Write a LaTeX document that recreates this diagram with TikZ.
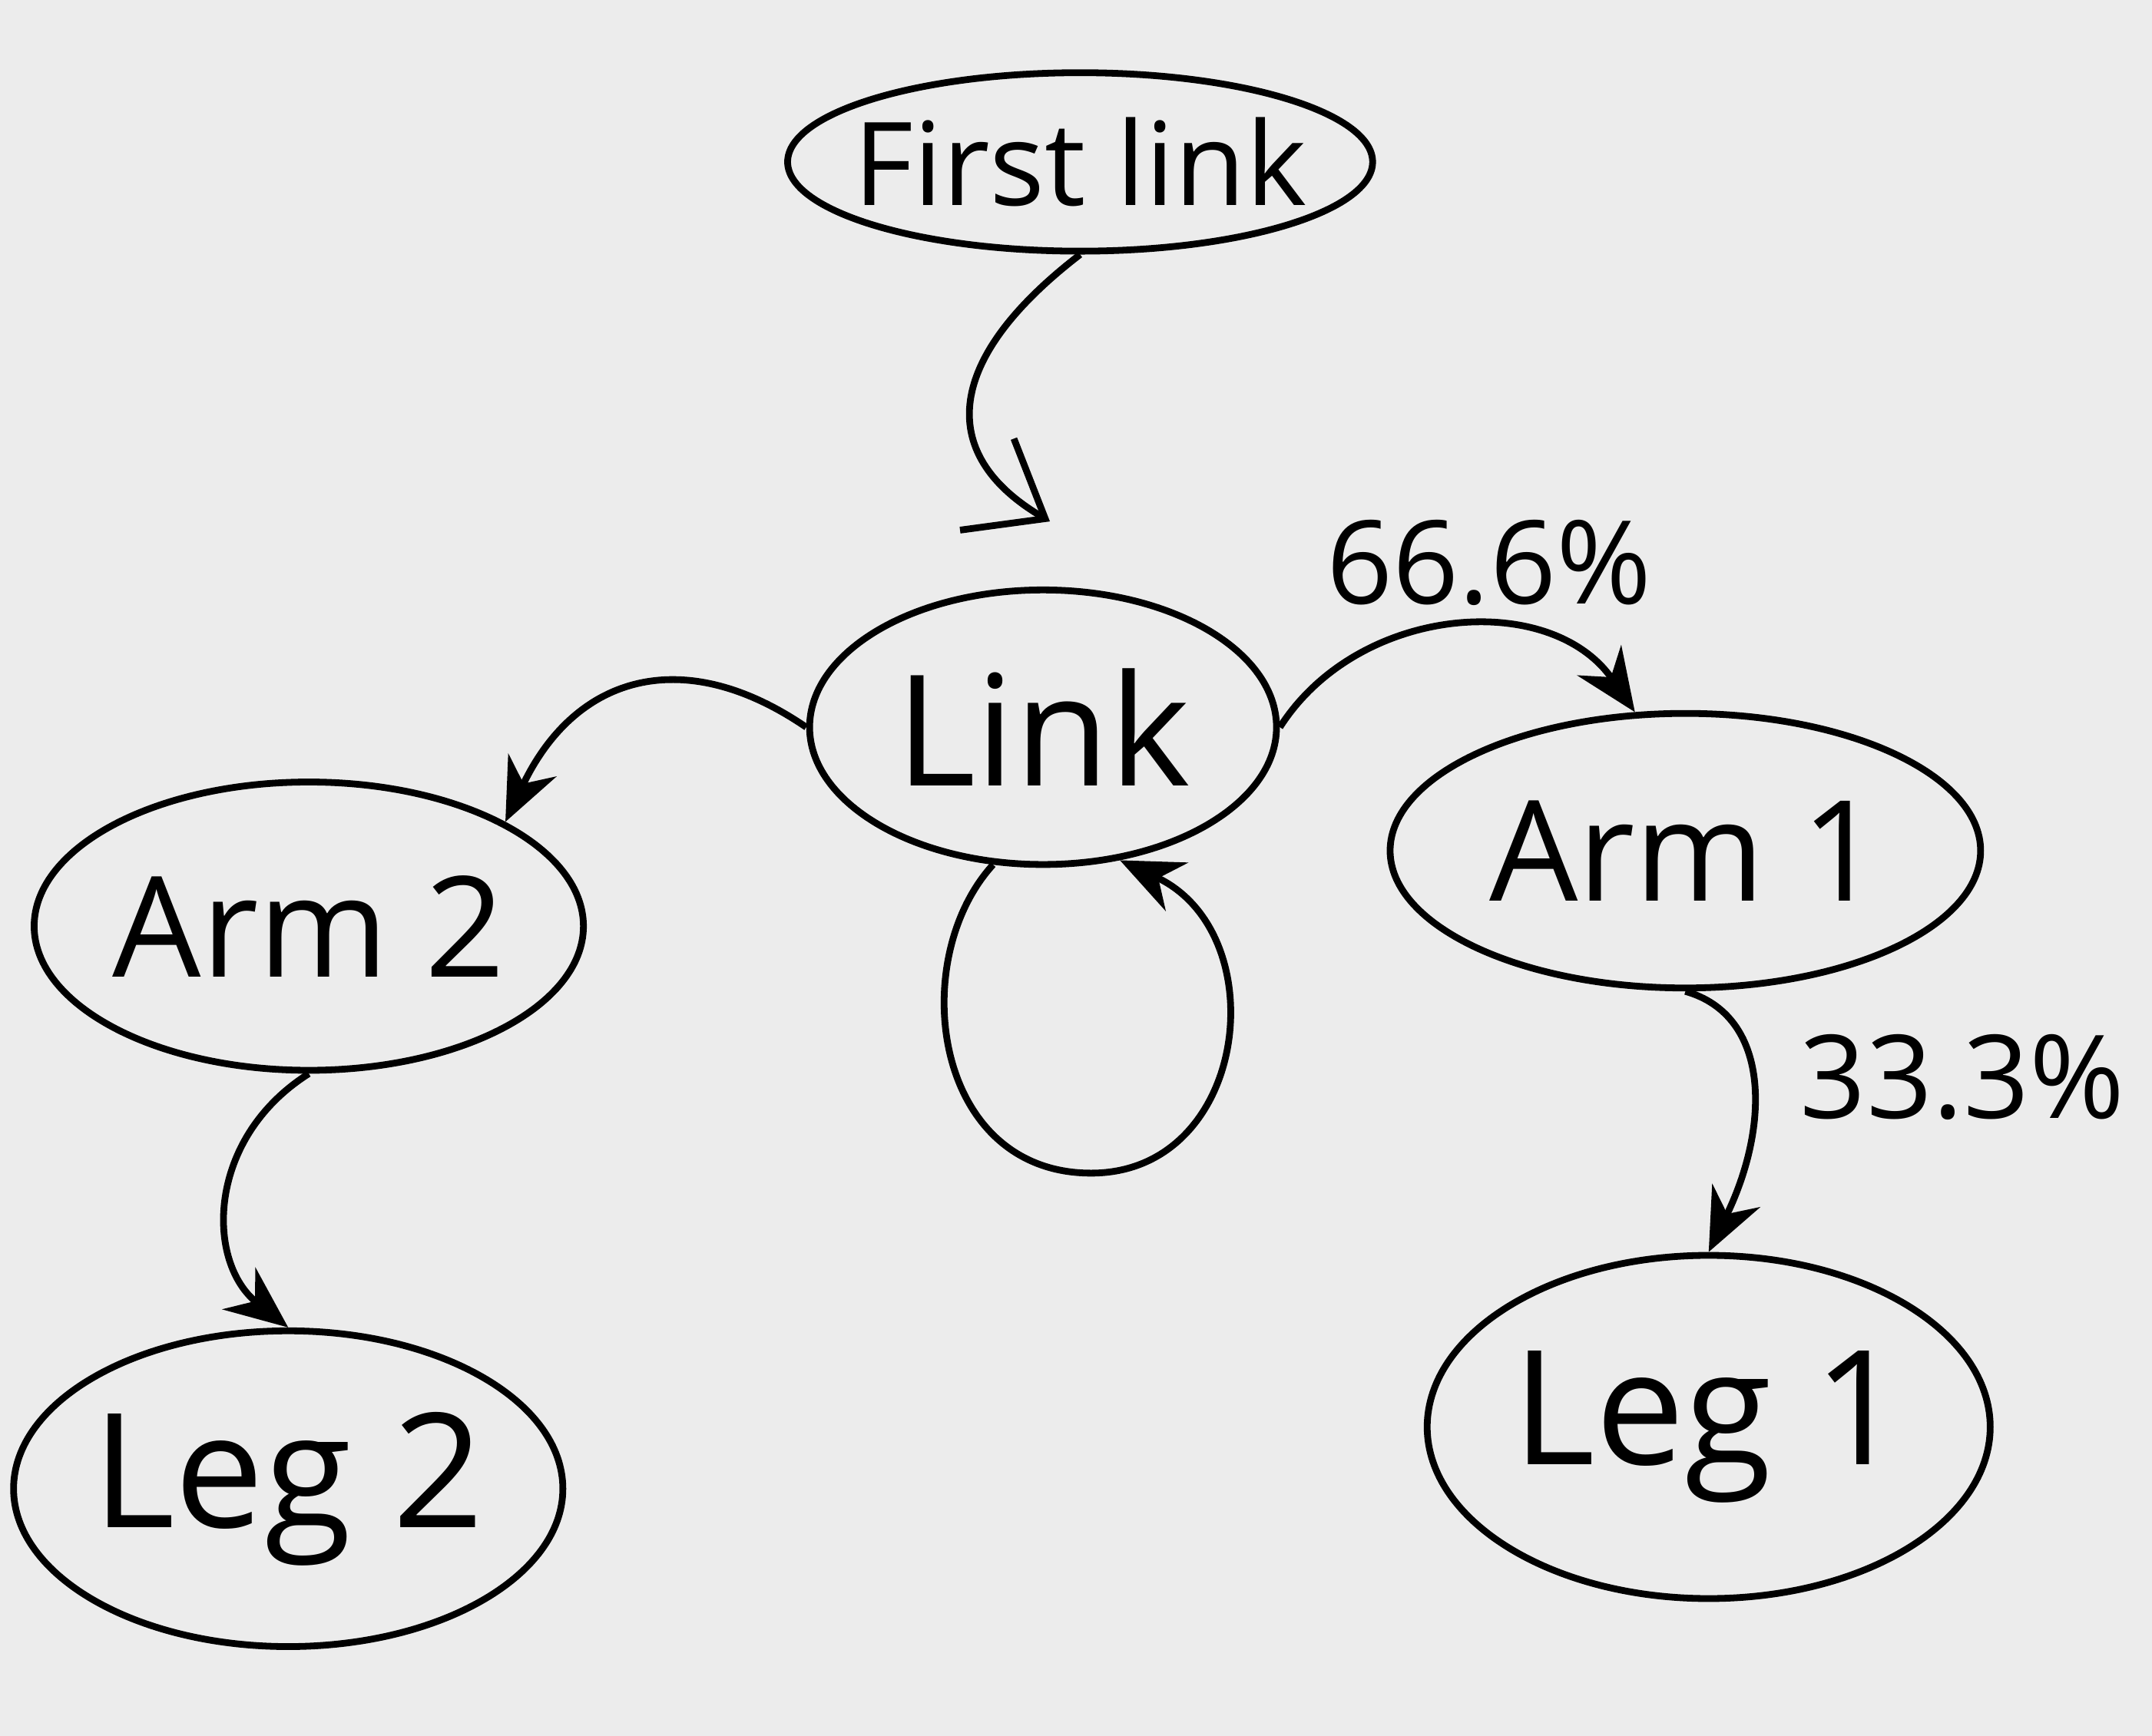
\documentclass[tikz,border=0pt]{standalone}
\usepackage{fontspec}
\setmainfont{Open Sans}
\usetikzlibrary{shapes.geometric,arrows.meta}
\begin{document}
\begin{tikzpicture}[x=0.01cm,y=-0.01cm,
  blob/.style={draw,line width=1.4pt,ellipse,inner sep=0pt},
  conn/.style={draw,line width=1.4pt,-{Stealth[length=13pt,width=11pt]}},
  lbl/.style={font=\fontsize{24}{28}\selectfont}]
\fill[gray!15] (0,0) rectangle (1568,1265);
\useasboundingbox (0,0) rectangle (1568,1265);
\node[blob,minimum width=4.26cm,minimum height=1.3cm,font=\fontsize{24}{28}\selectfont] (first) at (787,118) {\makebox[0pt]{First link}};
\node[blob,minimum width=3.4cm,minimum height=2cm,font=\fontsize{32}{38}\selectfont] (link) at (760,530) {\makebox[0pt]{Link}};
\node[blob,minimum width=4cm,minimum height=2.1cm,font=\fontsize{29}{34}\selectfont] (arm2) at (225,675) {\makebox[0pt]{Arm 2}};
\node[blob,minimum width=4.3cm,minimum height=2cm,font=\fontsize{29}{34}\selectfont] (arm1) at (1228,620) {\makebox[0pt]{Arm 1}};
\node[blob,minimum width=4cm,minimum height=2.3cm,font=\fontsize{33}{38}\selectfont] (leg2) at (210,1085) {\makebox[0pt]{Leg 2}};
\node[blob,minimum width=4.1cm,minimum height=2.5cm,font=\fontsize{33}{38}\selectfont] (leg1) at (1245,1040) {\makebox[0pt]{Leg 1}};
\draw[line width=1.4pt,-{Straight Barb[length=14pt,width=22pt]}] (first.south) .. controls (690,260) and (680,330) .. (765,380);
\draw[conn] (link.west) .. controls (500,470) and (420,490) .. (arm2.north east);
\draw[conn] (link.east) .. controls (990,440) and (1130,430) .. (arm1.110);
\draw[conn] (arm1.south) .. controls (1290,740) and (1290,820) .. (leg1.north);
\draw[conn] (arm2.south) .. controls (150,830) and (150,920) .. (leg2.north);
\draw[conn] (link.250) .. controls (660,700) and (680,855) .. (795,855) .. controls (910,855) and (930,680) .. (link.300);
\node[lbl] (p1) at (1085,410) {66.6\%};
\node[lbl] (p2) at (1430,785) {33.3\%};
\end{tikzpicture}
\end{document}
